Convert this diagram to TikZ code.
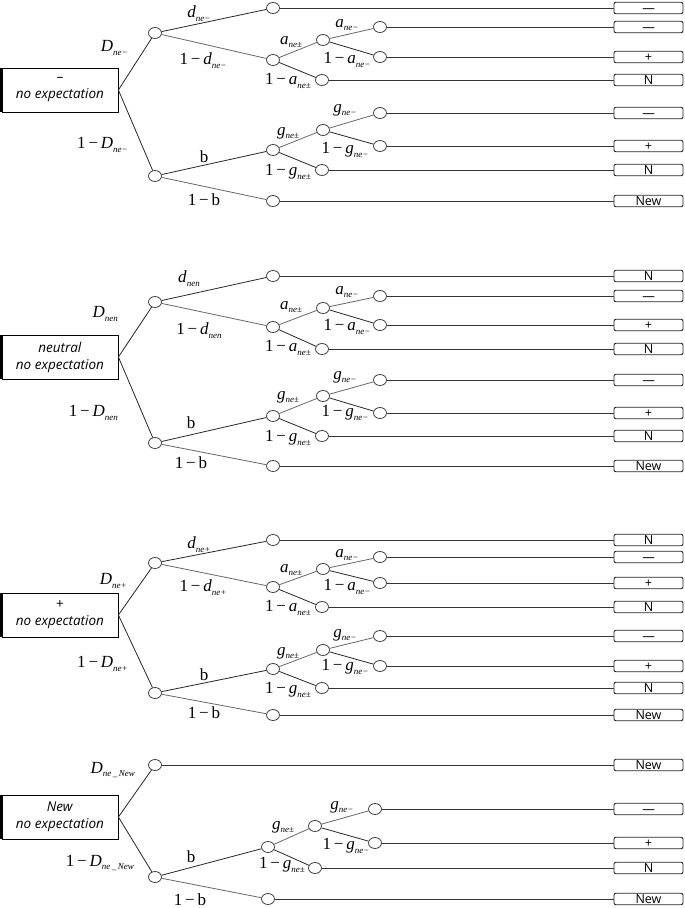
\documentclass[tikz,border=0pt]{standalone}
\usepackage{fontspec}
\setmainfont{Liberation Serif}
\newfontfamily\boxfont{Open Sans}
\usetikzlibrary{shapes.geometric}
\newcommand\lb[2]{\textit{#1}\raisebox{-0.5ex}{\fontsize{9}{9}\selectfont\textit{#2}}}
\newcommand\om{1\,−\,}
\begin{document}
\begin{tikzpicture}[x=1pt,y=-1pt,
 circ/.style={ellipse,draw=black!75,line width=0.8pt,fill=white,minimum width=13pt,minimum height=11pt,inner sep=0pt},
 outbox/.style={draw=black!85,line width=0.9pt,rounded corners=2pt,minimum width=69pt,minimum height=11.5pt,inner sep=0pt,text height=8.5pt,text depth=0pt,font=\boxfont\fontsize{12.5}{13}\selectfont},
 rootbox/.style={draw=black,line width=0.9pt,minimum width=116pt,minimum height=44pt,align=center,inner sep=0pt,anchor=west,font=\boxfont\fontsize{13.5}{17}\selectfont},
 lab/.style={font=\fontsize{17}{17}\selectfont,inner sep=0pt},
 br/.style={draw=black!85,line width=0.8pt},
 brl/.style={draw=black!60,line width=0.8pt},
 hl/.style={draw=black!80,line width=0.9pt}]
\useasboundingbox (0,0) rectangle (685,908);

% ================= Section 1 =================
\node[rootbox] (r1) at (1.5,90) {–\\\textit{no expectation}};
\draw[line width=2.5pt] (r1.north west) -- (r1.south west);
\node[circ] (s1a) at (155,33) {};
\node[circ] (s1b) at (155,176) {};
\node[circ] (s1d) at (273,8) {};
\node[circ] (s1nd) at (273,60) {};
\node[circ] (s1ap) at (323,40) {};
\node[circ] (s1am) at (380,27) {};
\node[circ] (s1nam) at (380,57) {};
\node[circ] (s1nap) at (322,80) {};
\node[circ] (s1bb) at (273,150) {};
\node[circ] (s1gp) at (323,130) {};
\node[circ] (s1gm) at (380,113) {};
\node[circ] (s1ngm) at (380,146) {};
\node[circ] (s1ngp) at (322,170) {};
\node[circ] (s1nb) at (273,201) {};
\node[outbox] (o1a) at (648.5,8) {—};
\node[outbox] (o1b) at (648.5,27) {—};
\node[outbox] (o1c) at (648.5,57) {+};
\node[outbox] (o1d) at (648.5,80) {N};
\node[outbox] (o1e) at (648.5,113) {—};
\node[outbox] (o1f) at (648.5,146) {+};
\node[outbox] (o1g) at (648.5,170) {N};
\node[outbox] (o1h) at (648.5,201) {New};
\draw[br] (r1.east) -- (s1a);
\draw[br] (r1.east) -- (s1b);
\draw[br] (s1a) -- (s1d);
\draw[brl] (s1a) -- (s1nd);
\draw[brl] (s1nd) -- (s1ap);
\draw[br] (s1nd) -- (s1nap);
\draw[brl] (s1ap) -- (s1am);
\draw[br] (s1ap) -- (s1nam);
\draw[br] (s1b) -- (s1bb);
\draw[brl] (s1b) -- (s1nb);
\draw[brl] (s1bb) -- (s1gp);
\draw[br] (s1bb) -- (s1ngp);
\draw[brl] (s1gp) -- (s1gm);
\draw[br] (s1gp) -- (s1ngm);
\draw[hl] (s1d) -- (o1a);
\draw[hl] (s1am) -- (o1b);
\draw[hl] (s1nam) -- (o1c);
\draw[hl] (s1nap) -- (o1d);
\draw[hl] (s1gm) -- (o1e);
\draw[hl] (s1ngm) -- (o1f);
\draw[hl] (s1ngp) -- (o1g);
\draw[hl] (s1nb) -- (o1h);
\node[lab,anchor=east] (l1D) at (128,48) {\lb{D}{ne−}};
\node[lab,anchor=east] (l1nD) at (128,145) {\om\lb{D}{ne−}};
\node[lab] (l1d) at (199,14) {\lb{d}{ne−}};
\node[lab] (l1nd) at (203,61) {\om\lb{d}{ne−}};
\node[lab] (l1ap) at (291,42) {\lb{a}{ne±}};
\node[lab] (l1am) at (347,25) {\lb{a}{ne−}};
\node[lab] (l1nam) at (347,60) {\om\lb{a}{ne−}};
\node[lab] (l1nap) at (288,81) {\om\lb{a}{ne±}};
\node[lab] (l1gm) at (345,110) {\lb{g}{ne−}};
\node[lab] (l1gp) at (288,133) {\lb{g}{ne±}};
\node[lab] (l1ngm) at (345,150) {\om\lb{g}{ne−}};
\node[lab] (l1ngp) at (288,172) {\om\lb{g}{ne±}};
\node[lab] (l1b) at (204,157) {b};
\node[lab] (l1nb) at (204,200) {1\,−\,b};

% ================= Section 2 =================
\node[rootbox] (r2) at (1.5,357) {\textit{neutral}\\\textit{no expectation}};
\draw[line width=2.5pt] (r2.north west) -- (r2.south west);
\node[circ] (s2a) at (155,302) {};
\node[circ] (s2b) at (155,443) {};
\node[circ] (s2d) at (273,276) {};
\node[circ] (s2nd) at (273,327) {};
\node[circ] (s2ap) at (323,308) {};
\node[circ] (s2am) at (380,296) {};
\node[circ] (s2nam) at (380,325) {};
\node[circ] (s2nap) at (322,349) {};
\node[circ] (s2bb) at (273,416) {};
\node[circ] (s2gp) at (323,396) {};
\node[circ] (s2gm) at (380,380) {};
\node[circ] (s2ngm) at (380,413) {};
\node[circ] (s2ngp) at (322,436) {};
\node[circ] (s2nb) at (273,466) {};
\node[outbox] (o2a) at (648.5,276) {N};
\node[outbox] (o2b) at (648.5,296) {—};
\node[outbox] (o2c) at (648.5,325) {+};
\node[outbox] (o2d) at (648.5,349) {N};
\node[outbox] (o2e) at (648.5,380) {—};
\node[outbox] (o2f) at (648.5,413) {+};
\node[outbox] (o2g) at (648.5,436) {N};
\node[outbox] (o2h) at (648.5,466) {New};
\draw[br] (r2.east) -- (s2a);
\draw[br] (r2.east) -- (s2b);
\draw[br] (s2a) -- (s2d);
\draw[brl] (s2a) -- (s2nd);
\draw[brl] (s2nd) -- (s2ap);
\draw[br] (s2nd) -- (s2nap);
\draw[brl] (s2ap) -- (s2am);
\draw[br] (s2ap) -- (s2nam);
\draw[br] (s2b) -- (s2bb);
\draw[brl] (s2b) -- (s2nb);
\draw[brl] (s2bb) -- (s2gp);
\draw[br] (s2bb) -- (s2ngp);
\draw[brl] (s2gp) -- (s2gm);
\draw[br] (s2gp) -- (s2ngm);
\draw[hl] (s2d) -- (o2a);
\draw[hl] (s2am) -- (o2b);
\draw[hl] (s2nam) -- (o2c);
\draw[hl] (s2nap) -- (o2d);
\draw[hl] (s2gm) -- (o2e);
\draw[hl] (s2ngm) -- (o2f);
\draw[hl] (s2ngp) -- (o2g);
\draw[hl] (s2nb) -- (o2h);
\node[lab,anchor=east] (l2D) at (118,314) {\lb{D}{nen}};
\node[lab,anchor=east] (l2nD) at (118,413) {\om\lb{D}{nen}};
\node[lab] (l2d) at (189,279) {\lb{d}{nen}};
\node[lab] (l2nd) at (199,331) {\om\lb{d}{nen}};
\node[lab] (l2ap) at (291,307) {\lb{a}{ne±}};
\node[lab] (l2am) at (347,292) {\lb{a}{ne−}};
\node[lab] (l2nam) at (347,327) {\om\lb{a}{ne−}};
\node[lab] (l2nap) at (288,348) {\om\lb{a}{ne±}};
\node[lab] (l2gm) at (345,377) {\lb{g}{ne−}};
\node[lab] (l2gp) at (288,397) {\lb{g}{ne±}};
\node[lab] (l2ngm) at (345,413) {\om\lb{g}{ne−}};
\node[lab] (l2ngp) at (288,438) {\om\lb{g}{ne±}};
\node[lab] (l2b) at (191,423) {b};
\node[lab] (l2nb) at (191,463) {1\,−\,b};

% ================= Section 3 =================
\node[rootbox] (r3) at (1.5,615) {+\\\textit{no expectation}};
\draw[line width=2.5pt] (r3.north west) -- (r3.south west);
\node[circ] (s3a) at (155,563) {};
\node[circ] (s3b) at (155,693) {};
\node[circ] (s3d) at (273,540) {};
\node[circ] (s3nd) at (273,587) {};
\node[circ] (s3ap) at (323,569) {};
\node[circ] (s3am) at (380,557) {};
\node[circ] (s3nam) at (380,583) {};
\node[circ] (s3nap) at (322,607) {};
\node[circ] (s3bb) at (273,669) {};
\node[circ] (s3gp) at (323,650) {};
\node[circ] (s3gm) at (380,636) {};
\node[circ] (s3ngm) at (380,666) {};
\node[circ] (s3ngp) at (322,688) {};
\node[circ] (s3nb) at (273,715) {};
\node[outbox] (o3a) at (648.5,540) {N};
\node[outbox] (o3b) at (648.5,557) {—};
\node[outbox] (o3c) at (648.5,583) {+};
\node[outbox] (o3d) at (648.5,607) {N};
\node[outbox] (o3e) at (648.5,636) {—};
\node[outbox] (o3f) at (648.5,666) {+};
\node[outbox] (o3g) at (648.5,688) {N};
\node[outbox] (o3h) at (648.5,715) {New};
\draw[br] (r3.east) -- (s3a);
\draw[br] (r3.east) -- (s3b);
\draw[br] (s3a) -- (s3d);
\draw[brl] (s3a) -- (s3nd);
\draw[brl] (s3nd) -- (s3ap);
\draw[br] (s3nd) -- (s3nap);
\draw[brl] (s3ap) -- (s3am);
\draw[br] (s3ap) -- (s3nam);
\draw[br] (s3b) -- (s3bb);
\draw[brl] (s3b) -- (s3nb);
\draw[brl] (s3bb) -- (s3gp);
\draw[br] (s3bb) -- (s3ngp);
\draw[brl] (s3gp) -- (s3gm);
\draw[br] (s3gp) -- (s3ngm);
\draw[hl] (s3d) -- (o3a);
\draw[hl] (s3am) -- (o3b);
\draw[hl] (s3nam) -- (o3c);
\draw[hl] (s3nap) -- (o3d);
\draw[hl] (s3gm) -- (o3e);
\draw[hl] (s3ngm) -- (o3f);
\draw[hl] (s3ngp) -- (o3g);
\draw[hl] (s3nb) -- (o3h);
\node[lab,anchor=east] (l3D) at (127,581) {\lb{D}{ne+}};
\node[lab,anchor=east] (l3nD) at (128,664) {\om\lb{D}{ne+}};
\node[lab] (l3d) at (199,545) {\lb{d}{ne+}};
\node[lab] (l3nd) at (203,588) {\om\lb{d}{ne+}};
\node[lab] (l3ap) at (291,570) {\lb{a}{ne±}};
\node[lab] (l3am) at (347,555) {\lb{a}{ne−}};
\node[lab] (l3nam) at (347,587) {\om\lb{a}{ne−}};
\node[lab] (l3nap) at (288,608) {\om\lb{a}{ne±}};
\node[lab] (l3gm) at (345,635) {\lb{g}{ne−}};
\node[lab] (l3gp) at (288,653) {\lb{g}{ne±}};
\node[lab] (l3ngm) at (345,667) {\om\lb{g}{ne−}};
\node[lab] (l3ngp) at (288,690) {\om\lb{g}{ne±}};
\node[lab] (l3b) at (204,675) {b};
\node[lab] (l3nb) at (204,713) {1\,−\,b};

% ================= Section 4 =================
\node[rootbox] (r4) at (1.5,817) {\textit{New}\\\textit{no expectation}};
\draw[line width=2.5pt] (r4.north west) -- (r4.south west);
\node[circ] (s4a) at (155,765) {};
\node[circ] (s4b) at (155,877) {};
\node[circ] (s4bb) at (268,847) {};
\node[circ] (s4gp) at (315,826) {};
\node[circ] (s4gm) at (375,809) {};
\node[circ] (s4ngm) at (375,843) {};
\node[circ] (s4ngp) at (315,868) {};
\node[circ] (s4nb) at (268,899) {};
\node[outbox] (o4a) at (648.5,765) {New};
\node[outbox] (o4b) at (648.5,809) {—};
\node[outbox] (o4c) at (648.5,843) {+};
\node[outbox] (o4d) at (648.5,868) {N};
\node[outbox] (o4e) at (648.5,899) {New};
\draw[br] (r4.east) -- (s4a);
\draw[br] (r4.east) -- (s4b);
\draw[br] (s4b) -- (s4bb);
\draw[brl] (s4b) -- (s4nb);
\draw[brl] (s4bb) -- (s4gp);
\draw[br] (s4bb) -- (s4ngp);
\draw[brl] (s4gp) -- (s4gm);
\draw[br] (s4gp) -- (s4ngm);
\draw[hl] (s4a) -- (o4a);
\draw[hl] (s4gm) -- (o4b);
\draw[hl] (s4ngm) -- (o4c);
\draw[hl] (s4ngp) -- (o4d);
\draw[hl] (s4nb) -- (o4e);
\node[lab,anchor=east] (l4D) at (135,770) {\lb{D}{ne\,\_\,New}};
\node[lab,anchor=east] (l4nD) at (134,863) {\om\lb{D}{ne\,\_\,New}};
\node[lab] (l4gp) at (283,827) {\lb{g}{ne±}};
\node[lab] (l4gm) at (342,807) {\lb{g}{ne−}};
\node[lab] (l4ngm) at (346,846) {\om\lb{g}{ne−}};
\node[lab] (l4ngp) at (282,865) {\om\lb{g}{ne±}};
\node[lab] (l4b) at (191,857) {b};
\node[lab] (l4nb) at (190,900) {1\,−\,b};
\end{tikzpicture}
\end{document}
